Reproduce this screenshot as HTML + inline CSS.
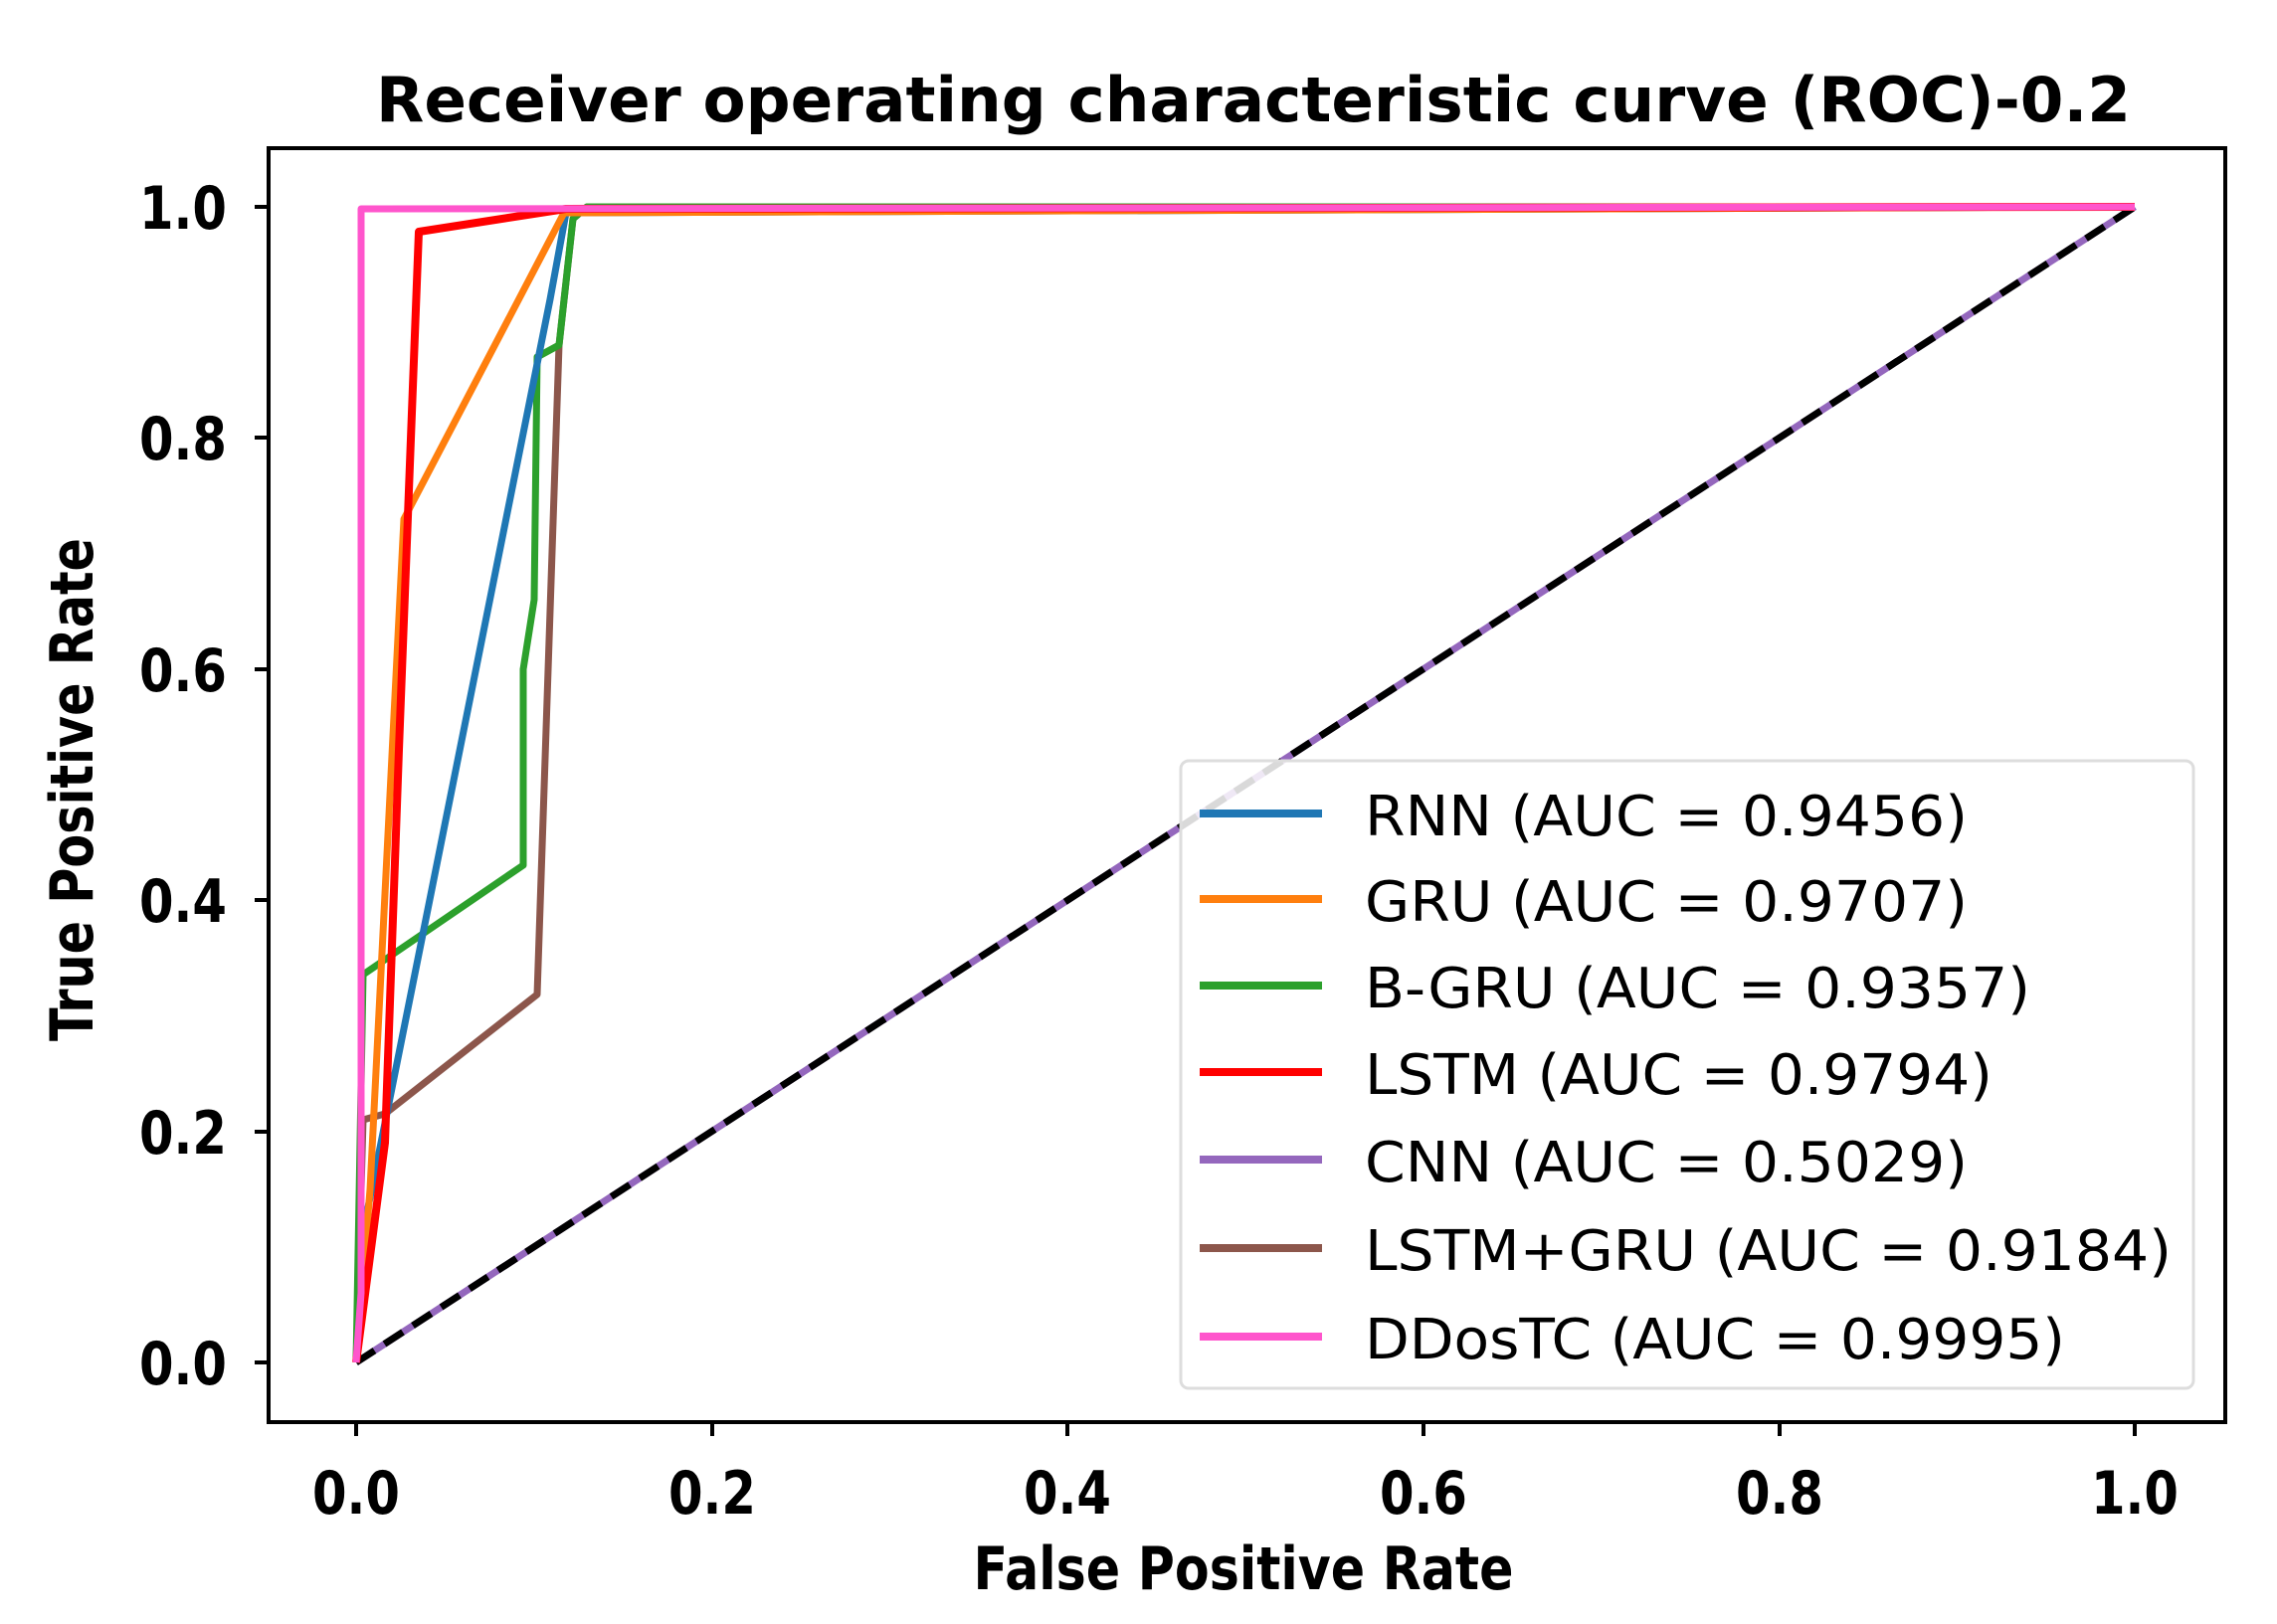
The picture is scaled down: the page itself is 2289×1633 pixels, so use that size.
<!DOCTYPE html>
<html><head><meta charset="utf-8"><style>html,body{margin:0;padding:0;background:#fff}svg{display:block}</style></head>
<body>
<svg width="2289" height="1633" viewBox="0 0 2289 1633" xmlns="http://www.w3.org/2000/svg" font-family="DejaVu Sans, Liberation Sans, sans-serif">
<rect width="2289" height="1633" fill="#fff"/>
<text x="378" y="122" font-size="62" font-weight="bold" textLength="1764" lengthAdjust="spacingAndGlyphs">Receiver operating characteristic curve (ROC)-0.2</text>
<g fill="none" stroke-width="7" stroke-linejoin="round">
<polyline stroke="#9467bd" points="358,1370 2146,208"/>
<polyline stroke="#000" stroke-dasharray="22,12" points="358,1370 2146,208"/>
<polyline stroke="#8c564b" points="358,1370 365,1126 387,1120 540,1000 562,347 576,220 590,208 2146,208"/>
<polyline stroke="#2ca02c" points="358,1370 365,980 526,870 526,673 537,603 540,359 562,347 576,220 590,208 2146,208"/>
<polyline stroke="#1f77b4" points="358,1370 369,1219 553,301 569,214 2146,208"/>
<polyline stroke="#ff7f0e" points="358,1370 372,1196 406,522 567,214 2146,208"/>
<polyline stroke="#ff0000" stroke-width="8" points="358,1370 387,1149 401,754 421,233 569,210 2146,208"/>
<polyline stroke="#ff55cc" points="358,1370 363,1300 363,210 2146,208"/>
</g>
<rect x="270" y="149" width="1967" height="1281" fill="none" stroke="#000" stroke-width="4"/>
<g stroke="#000" stroke-width="4">
<line x1="270" y1="1370" x2="256" y2="1370"/><line x1="270" y1="1138" x2="256" y2="1138"/><line x1="270" y1="905" x2="256" y2="905"/><line x1="270" y1="673" x2="256" y2="673"/><line x1="270" y1="440" x2="256" y2="440"/><line x1="270" y1="208" x2="256" y2="208"/>
<line x1="358" y1="1430" x2="358" y2="1444"/><line x1="716" y1="1430" x2="716" y2="1444"/><line x1="1073" y1="1430" x2="1073" y2="1444"/><line x1="1431" y1="1430" x2="1431" y2="1444"/><line x1="1789" y1="1430" x2="1789" y2="1444"/><line x1="2146" y1="1430" x2="2146" y2="1444"/>
</g>
<g font-size="60" font-weight="bold" text-anchor="end">
<text x="228" y="1392" textLength="88" lengthAdjust="spacingAndGlyphs">0.0</text>
<text x="228" y="1160" textLength="88" lengthAdjust="spacingAndGlyphs">0.2</text>
<text x="228" y="927" textLength="88" lengthAdjust="spacingAndGlyphs">0.4</text>
<text x="228" y="695" textLength="88" lengthAdjust="spacingAndGlyphs">0.6</text>
<text x="228" y="462" textLength="88" lengthAdjust="spacingAndGlyphs">0.8</text>
<text x="228" y="230" textLength="88" lengthAdjust="spacingAndGlyphs">1.0</text>
</g>
<g font-size="60" font-weight="bold" text-anchor="middle">
<text x="358" y="1522" textLength="88" lengthAdjust="spacingAndGlyphs">0.0</text>
<text x="716" y="1522" textLength="88" lengthAdjust="spacingAndGlyphs">0.2</text>
<text x="1073" y="1522" textLength="88" lengthAdjust="spacingAndGlyphs">0.4</text>
<text x="1431" y="1522" textLength="88" lengthAdjust="spacingAndGlyphs">0.6</text>
<text x="1789" y="1522" textLength="88" lengthAdjust="spacingAndGlyphs">0.8</text>
<text x="2146" y="1522" textLength="88" lengthAdjust="spacingAndGlyphs">1.0</text>
<text x="1250" y="1598" textLength="543" lengthAdjust="spacingAndGlyphs">False Positive Rate</text>
<text transform="translate(93,794) rotate(-90)" textLength="506" lengthAdjust="spacingAndGlyphs">True Positive Rate</text>
</g>
<rect x="1187" y="765" width="1018" height="631" rx="8" fill="#fff" fill-opacity="0.85" stroke="#ddd" stroke-width="3"/>
<g stroke-width="8">
<line x1="1206" y1="818" x2="1329" y2="818" stroke="#1f77b4"/>
<line x1="1206" y1="904" x2="1329" y2="904" stroke="#ff7f0e"/>
<line x1="1206" y1="991" x2="1329" y2="991" stroke="#2ca02c"/>
<line x1="1206" y1="1078" x2="1329" y2="1078" stroke="#ff0000"/>
<line x1="1206" y1="1166" x2="1329" y2="1166" stroke="#9467bd"/>
<line x1="1206" y1="1255" x2="1329" y2="1255" stroke="#8c564b"/>
<line x1="1206" y1="1344" x2="1329" y2="1344" stroke="#ff55cc"/>
</g>
<g font-size="56" fill="#000">
<text x="1372" y="840" textLength="606" lengthAdjust="spacingAndGlyphs">RNN (AUC = 0.9456)</text>
<text x="1372" y="926" textLength="606" lengthAdjust="spacingAndGlyphs">GRU (AUC = 0.9707)</text>
<text x="1372" y="1013" textLength="669" lengthAdjust="spacingAndGlyphs">B-GRU (AUC = 0.9357)</text>
<text x="1372" y="1100" textLength="631" lengthAdjust="spacingAndGlyphs">LSTM (AUC = 0.9794)</text>
<text x="1372" y="1188" textLength="606" lengthAdjust="spacingAndGlyphs">CNN (AUC = 0.5029)</text>
<text x="1372" y="1277" textLength="811" lengthAdjust="spacingAndGlyphs">LSTM+GRU (AUC = 0.9184)</text>
<text x="1372" y="1366" textLength="704" lengthAdjust="spacingAndGlyphs">DDosTC (AUC = 0.9995)</text>
</g>
</svg>
</body></html>
